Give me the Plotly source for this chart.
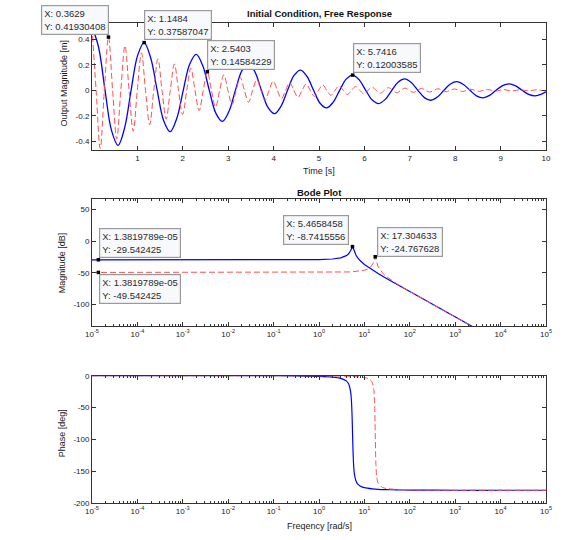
import math
import plotly.graph_objects as go

FONT = "Liberation Sans, Arial, sans-serif"

# ---------------- Initial condition, free response (time domain) ----------------
t_blue = [0, 0.144, 0.287, 0.431, 0.574, 0.718, 0.861, 1.005, 1.148, 1.292,
          1.436, 1.579, 1.723, 1.866, 2.010, 2.153, 2.297, 2.440, 2.584, 2.727,
          2.871, 3.015, 3.158, 3.302, 3.445, 3.589, 3.732, 3.876, 4.019, 4.163,
          4.307, 4.450, 4.594, 4.737, 4.881, 5.024, 5.168, 5.311, 5.455, 5.598,
          5.742, 5.886, 6.029, 6.173, 6.316, 6.460, 6.603, 6.747, 6.890, 7.034,
          7.178, 7.321, 7.465, 7.608, 7.752, 7.895, 8.039, 8.182, 8.326, 8.469,
          8.613, 8.757, 8.900, 9.044, 9.187, 9.331, 9.474, 9.618, 9.761, 9.905, 10.0]
y_blue = [0.5, 0.3412, 0, -0.3177, -0.4335, -0.2958, 0, 0.2754,
          0.3758, 0.2564, 0, -0.2388, -0.3258, -0.2223, 0, 0.2070,
          0.2825, 0.1927, 0, -0.1795, -0.2449, -0.1671, 0, 0.1556,
          0.2123, 0.1449, 0, -0.1349, -0.1841, -0.1256, 0, 0.1170,
          0.1596, 0.1089, 0, -0.1014, -0.1384, -0.0944, 0, 0.0879,
          0.1200, 0.0819, 0, -0.0762, -0.1040, -0.0710, 0, 0.0661,
          0.0902, 0.0615, 0, -0.0573, -0.0782, -0.0533, 0, 0.0497,
          0.0678, 0.0462, 0, -0.0431, -0.0588, -0.0401, 0, 0.0373,
          0.0510, 0.0348, 0, -0.0324, -0.0442, -0.0301, -0.0120]

t_red = [0, 0.091, 0.181, 0.272, 0.363, 0.454, 0.544, 0.635, 0.726, 0.817,
         0.907, 0.998, 1.089, 1.179, 1.270, 1.361, 1.452, 1.542, 1.633, 1.724,
         1.815, 1.905, 1.996, 2.087, 2.177, 2.268, 2.359, 2.450, 2.540, 2.631,
         2.722, 2.812, 2.903, 2.994, 3.085, 3.175, 3.266, 3.357, 3.448, 3.538,
         3.629, 3.720, 3.810, 3.901, 3.992, 4.083, 4.173, 4.264, 4.355, 4.446,
         4.536, 4.627, 4.718, 4.808, 4.899, 4.990, 5.081, 5.171, 5.262, 5.353,
         5.444, 5.534, 5.625, 5.716, 5.806, 5.897, 5.988, 6.079, 6.169, 6.260,
         6.351, 6.441, 6.532, 6.623, 6.714, 6.804, 6.895, 6.986, 7.077, 7.167,
         7.258, 7.349, 7.439, 7.530, 7.621, 7.712, 7.802, 7.893, 7.984, 8.075,
         8.165, 8.256, 8.347, 8.437, 8.528, 8.619, 8.710, 8.800, 8.891, 8.982,
         9.073, 9.163, 9.254, 9.345, 9.435, 9.526, 9.617, 9.708, 9.798, 9.889,
         9.980, 10.0]
y_red = [0.5, 0, -0.45788, 0, 0.41930, 0, -0.38397, 0, 0.35162, 0,
         -0.32200, 0, 0.29487, 0, -0.27003, 0, 0.24728, 0, -0.22645, 0,
         0.20737, 0, -0.18990, 0, 0.17390, 0, -0.15925, 0, 0.14583, 0,
         -0.13354, 0, 0.12229, 0, -0.11199, 0, 0.10255, 0, -0.09391, 0,
         0.08600, 0, -0.07875, 0, 0.07212, 0, -0.06604, 0, 0.06048, 0,
         -0.05538, 0, 0.05072, 0, -0.04644, 0, 0.04253, 0, -0.03895, 0,
         0.03567, 0, -0.03266, 0, 0.02991, 0, -0.02739, 0, 0.02508, 0,
         -0.02297, 0, 0.02103, 0, -0.01926, 0, 0.01764, 0, -0.01615, 0,
         0.01479, 0, -0.01354, 0, 0.01240, 0, -0.01136, 0, 0.01040, 0,
         -0.00952, 0, 0.00872, 0, -0.00799, 0, 0.00731, 0, -0.00670, 0,
         0.00613, 0, -0.00562, 0, 0.00514, 0, -0.00471, 0, 0.00431, 0,
         -0.00395, -0.0037]

tip_time_x = [0.3629, 1.1484, 2.5403, 5.7416]
tip_time_y = [0.41930408, 0.37587047, 0.14584229, 0.12003585]
tip_time_xlabel = ["0.3629", "1.1484", "2.5403", "5.7416"]
tip_time_ylabel = ["0.41930408", "0.37587047", "0.14584229", "0.12003585"]

# ---------------- Bode plot ----------------
w_blue = [1e-5, 0.01, 0.1, 1, 2, 3, 4, 4.5, 5, 5.2, 5.35, 5.4658, 5.6, 5.8, 6,
          6.5, 7, 8, 10, 15, 20, 30, 50, 100, 1000, 1e4, 1e5]
mag_blue = [-29.54, -29.54, -29.54, -29.25, -28.31, -26.47, -23.01, -20.01,
            -14.95, -11.91, -9.57, -8.74, -9.86, -13.36, -16.53, -22.06, -25.72,
            -30.69, -36.92, -45.81, -51.37, -58.79, -67.85, -79.97, -120.0,
            -160.0, -200.0]
phase_blue = [0, -0.01, -0.1, -0.99, -2.20, -4.09, -8.13, -13.0, -26.57, -41.3,
              -62.8, -87.4, -115.9, -141.5, -153.4, -165.1, -169.6, -173.3,
              -175.9, -177.8, -178.5, -179.0, -179.4, -179.7, -180.0, -180.0, -180.0]

w_red = [1e-5, 0.01, 0.1, 1, 5, 10, 12, 14, 15, 16, 16.8, 17.3046, 17.8, 18.5,
         20, 25, 30, 50, 100, 1000, 1e4, 1e5]
mag_red = [-49.54, -49.54, -49.54, -49.51, -48.79, -46.03, -43.89, -40.42,
           -37.67, -33.41, -27.77, -24.77, -27.78, -33.28, -40.17, -50.26,
           -55.57, -66.85, -79.74, -120.0, -160.0, -200.0]
phase_red = [0, 0, -0.02, -0.19, -1.04, -2.86, -4.40, -7.67, -11.31, -19.98,
             -43.4, -88.2, -133.4, -156.3, -168.7, -175.6, -177.1, -178.7,
             -179.4, -179.9, -180.0, -180.0]

tip_bode_x = [1.3819789e-05, 1.3819789e-05, 5.4658458, 17.304633]
tip_bode_y = [-29.542425, -49.542425, -8.7415556, -24.767628]
tip_bode_xlabel = ["1.3819789e-05", "1.3819789e-05", "5.4658458", "17.304633"]
tip_bode_ylabel = ["-29.542425", "-49.542425", "-8.7415556", "-24.767628"]

decades = [-5, -4, -3, -2, -1, 0, 1, 2, 3, 4, 5]

# ---------------- figure ----------------
BLUE = "#0000FF"
RED = "#FF5050"
fig = go.Figure()

fig.add_trace(go.Scatter(x=t_blue, y=y_blue, mode="lines", xaxis="x", yaxis="y",
                         line=dict(color=BLUE, width=1.3, shape="spline", smoothing=1.0)))
fig.add_trace(go.Scatter(x=t_red, y=y_red, mode="lines", xaxis="x", yaxis="y",
                         line=dict(color=RED, width=1, dash="6px,3px", shape="spline", smoothing=1.0)))
fig.add_trace(go.Scatter(x=w_blue, y=mag_blue, mode="lines", xaxis="x2", yaxis="y2",
                         line=dict(color=BLUE, width=1.2)))
fig.add_trace(go.Scatter(x=w_red, y=mag_red, mode="lines", xaxis="x2", yaxis="y2",
                         line=dict(color=RED, width=1, dash="6px,3px")))
fig.add_trace(go.Scatter(x=w_blue, y=phase_blue, mode="lines", xaxis="x3", yaxis="y3",
                         line=dict(color=BLUE, width=1.2, shape="spline", smoothing=0.6)))
fig.add_trace(go.Scatter(x=w_red, y=phase_red, mode="lines", xaxis="x3", yaxis="y3",
                         line=dict(color=RED, width=1, dash="6px,3px", shape="spline", smoothing=0.6)))

# data-tip dots
fig.add_trace(go.Scatter(x=tip_time_x, y=tip_time_y, mode="markers", xaxis="x", yaxis="y",
                         marker=dict(symbol="square", size=3.5, color="black"), cliponaxis=False))
fig.add_trace(go.Scatter(x=tip_bode_x, y=tip_bode_y, mode="markers", xaxis="x2", yaxis="y2",
                         marker=dict(symbol="square", size=3.5, color="black"), cliponaxis=False))

AX = "#333333"
base = dict(showline=True, linecolor=AX, linewidth=1, mirror="allticks", ticks="inside",
            ticklen=4, tickcolor=AX, tickwidth=1, showgrid=False, zeroline=False,
            tickfont=dict(family=FONT, size=8, color="#222222"), fixedrange=True)

minor_vals = [m * 10 ** e for e in range(-5, 5) for m in range(2, 10)]
logax = dict(base, type="log", range=[-5, 5], tickmode="array",
             tickvals=[10 ** d for d in decades],
             ticktext=["10<sup>%d</sup>" % d for d in decades],
             minor=dict(ticks="inside", ticklen=2, tickcolor=AX, tickmode="array",
                        tickvals=minor_vals, showgrid=False))

fig.update_layout(
    width=569, height=540,
    margin=dict(l=92, r=23, t=23, b=37),
    paper_bgcolor="white", plot_bgcolor="white",
    showlegend=False,
    font=dict(family=FONT, size=9, color="#1a1a1a"),
    xaxis=dict(base, domain=[0, 1], range=[0, 10], anchor="y", tickmode="array",
               tickvals=[1, 2, 3, 4, 5, 6, 7, 8, 9, 10],
               ticktext=["1", "2", "3", "4", "5", "6", "7", "8", "9", "10"]),
    yaxis=dict(base, domain=[0.7348, 1.0], range=[-0.472, 0.53], anchor="x", tickmode="array",
               tickvals=[-0.4, -0.2, 0, 0.2, 0.4],
               ticktext=["-0.4", "-0.2", "0", "0.2", "0.4"]),
    xaxis2=dict(logax, domain=[0, 1], anchor="y2"),
    yaxis2=dict(base, domain=[0.3688, 0.6323], range=[-134.2, 65.8], anchor="x2",
                tickmode="array", tickvals=[-100, -50, 0, 50],
                ticktext=["-100", "-50", "0", "50"]),
    xaxis3=dict(logax, domain=[0, 1], anchor="y3"),
    yaxis3=dict(base, domain=[0, 0.2652], range=[-200, 0], anchor="x3",
                tickmode="array", tickvals=[-200, -150, -100, -50, 0],
                ticktext=["-200", "-150", "-100", "-50", "0"]),
)

ann = []
# titles
ann.append(dict(text="<b>Initial Condition, Free Response</b>", xref="paper", yref="paper",
                x=0.5, y=1.0188, xanchor="center", yanchor="middle", showarrow=False,
                font=dict(size=9.5, color="#111")))
ann.append(dict(text="<b>Bode Plot</b>", xref="paper", yref="paper",
                x=0.5, y=0.6473, xanchor="center", yanchor="middle", showarrow=False,
                font=dict(size=9.5, color="#111")))
# axis labels
ann.append(dict(text="Time [s]", xref="paper", yref="paper", x=0.5, y=0.6917,
                xanchor="center", yanchor="middle", showarrow=False, font=dict(size=9)))
ann.append(dict(text="Freqency [rad/s]", xref="paper", yref="paper", x=0.5, y=-0.0473,
                xanchor="center", yanchor="middle", showarrow=False, font=dict(size=9)))
ann.append(dict(text="Output Magnitude [m]", xref="paper", yref="paper", x=-0.0617, y=0.876,
                xanchor="center", yanchor="middle", textangle=-90, showarrow=False, font=dict(size=9)))
ann.append(dict(text="Magnitude [dB]", xref="paper", yref="paper", x=-0.0654, y=0.5,
                xanchor="center", yanchor="middle", textangle=-90, showarrow=False, font=dict(size=9)))
ann.append(dict(text="Phase [deg]", xref="paper", yref="paper", x=-0.0667, y=0.1445,
                xanchor="center", yanchor="middle", textangle=-90, showarrow=False, font=dict(size=9)))

tip_style = dict(showarrow=False, align="left", bgcolor="#F8F9FD", bordercolor="#9A9A9A",
                 borderwidth=1.2, borderpad=2, font=dict(size=9.5, color="#2a2a2a"))
# placements (anchor, shifts) for time tips
time_place = [("right", "bottom", 1, 2), ("left", "bottom", 0, 3),
              ("left", "bottom", 0, 2), ("left", "bottom", 0, 2)]
for i in range(4):
    xa, ya, xs, ys = time_place[i]
    ann.append(dict(tip_style, text="X: %s<br>Y: %s" % (tip_time_xlabel[i], tip_time_ylabel[i]),
                    xref="x", yref="y", x=tip_time_x[i], y=tip_time_y[i],
                    xanchor=xa, yanchor=ya, xshift=xs, yshift=ys))
bode_place = [("left", "bottom", 1, 2), ("left", "top", 1, -2),
              ("right", "bottom", -3, 2), ("left", "bottom", 2, 0)]
for i in range(4):
    xa, ya, xs, ys = bode_place[i]
    ann.append(dict(tip_style, text="X: %s<br>Y: %s" % (tip_bode_xlabel[i], tip_bode_ylabel[i]),
                    xref="x2", yref="y2", x=math.log10(tip_bode_x[i]), y=tip_bode_y[i],
                    xanchor=xa, yanchor=ya, xshift=xs, yshift=ys))

fig.update_layout(annotations=ann)
fig.write_html("out.html")
